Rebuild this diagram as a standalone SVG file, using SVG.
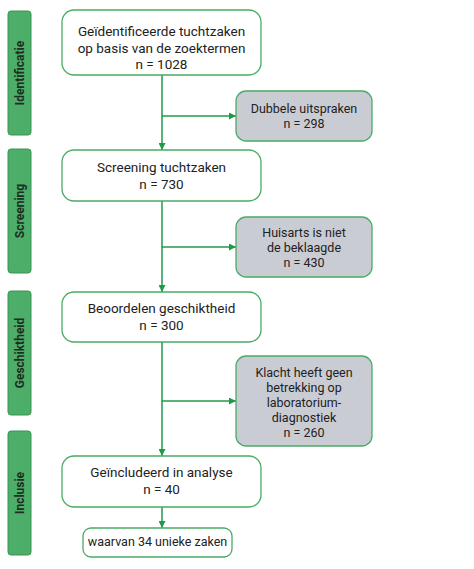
<svg xmlns="http://www.w3.org/2000/svg" width="474" height="569" viewBox="0 0 474 569">
<style>
.bg{fill:#ffffff}
.main{fill:#ffffff;stroke:#4aab66;stroke-width:1.3}
.ex{fill:#caccd4;stroke:#4aab66;stroke-width:1.3}
.bar{fill:#4cae68;stroke:#3b9456;stroke-width:1}
.t{font-family:Roboto,"Liberation Sans",sans-serif;font-size:13.5px;fill:#222;text-anchor:middle}
.ts{font-family:Roboto,"Liberation Sans",sans-serif;font-size:12.5px;fill:#222;text-anchor:middle}
.side{font-family:Roboto,"Liberation Sans",sans-serif;font-size:12px;font-weight:bold;fill:#1d2d22;text-anchor:middle}
.c{stroke:#1f9a4a;stroke-width:1.5;fill:none}
</style>
<defs>
<marker id="ah" viewBox="0 0 10 10" refX="10" refY="5" markerWidth="7" markerHeight="7" markerUnits="userSpaceOnUse" orient="auto">
<path d="M0,0 L10,5 L0,10 z" fill="#1f9a4a"/>
</marker>
</defs>
<rect class="bg" x="0" y="0" width="474" height="569"/>
<g id="phase-identificatie">
<rect class="bar" x="8" y="11" width="23" height="124" rx="3"/>
<text class="side" transform="translate(24,73) rotate(-90)">Identificatie</text>
</g>
<g id="phase-screening">
<rect class="bar" x="8" y="149" width="23" height="124" rx="3"/>
<text class="side" transform="translate(24,211) rotate(-90)">Screening</text>
</g>
<g id="phase-geschiktheid">
<rect class="bar" x="8" y="291" width="23" height="124" rx="3"/>
<text class="side" transform="translate(24,353) rotate(-90)">Geschiktheid</text>
</g>
<g id="phase-inclusie">
<rect class="bar" x="8" y="431" width="23" height="124" rx="3"/>
<text class="side" transform="translate(24,493) rotate(-90)">Inclusie</text>
</g>
<g id="connectors">
<path class="c" d="M162,75 V150" marker-end="url(#ah)"/>
<path class="c" d="M162,116 H236" marker-end="url(#ah)"/>
<path class="c" d="M162,201 V292" marker-end="url(#ah)"/>
<path class="c" d="M162,247 H236" marker-end="url(#ah)"/>
<path class="c" d="M162,342 V456" marker-end="url(#ah)"/>
<path class="c" d="M162,401 H236" marker-end="url(#ah)"/>
<path class="c" d="M162,507 V528" marker-end="url(#ah)"/>
</g>
<g id="n1">
<rect class="main" x="62" y="10" width="199" height="65" rx="12"/>
<text class="t" x="161.5" y="36">Geïdentificeerde tuchtzaken</text>
<text class="t" x="161.5" y="53">op basis van de zoektermen</text>
<text class="t" x="161.5" y="69">n = 1028</text>
</g>
<g id="x1">
<rect class="ex" x="236" y="91" width="136" height="50" rx="10"/>
<text class="ts" x="304" y="113">Dubbele uitspraken</text>
<text class="ts" x="304" y="128">n = 298</text>
</g>
<g id="n2">
<rect class="main" x="62" y="150" width="199" height="51" rx="12"/>
<text class="t" x="161.5" y="172">Screening tuchtzaken</text>
<text class="t" x="161.5" y="189">n = 730</text>
</g>
<g id="x2">
<rect class="ex" x="236" y="217" width="136" height="60" rx="10"/>
<text class="ts" x="304" y="237">Huisarts is niet</text>
<text class="ts" x="304" y="252">de beklaagde</text>
<text class="ts" x="304" y="267">n = 430</text>
</g>
<g id="n3">
<rect class="main" x="62" y="292" width="199" height="50" rx="12"/>
<text class="t" x="161.5" y="313">Beoordelen geschiktheid</text>
<text class="t" x="161.5" y="330">n = 300</text>
</g>
<g id="x3">
<rect class="ex" x="236" y="356" width="136" height="90" rx="10"/>
<text class="ts" x="304" y="377">Klacht heeft geen</text>
<text class="ts" x="304" y="392">betrekking op</text>
<text class="ts" x="304" y="407">laboratorium-</text>
<text class="ts" x="304" y="422">diagnostiek</text>
<text class="ts" x="304" y="437">n = 260</text>
</g>
<g id="n4">
<rect class="main" x="62" y="456" width="199" height="51" rx="12"/>
<text class="t" x="161.5" y="477">Geïncludeerd in analyse</text>
<text class="t" x="161.5" y="494">n = 40</text>
</g>
<g id="n5">
<rect class="main" x="83" y="528" width="149" height="29" rx="8"/>
<text class="ts" x="157.5" y="546">waarvan 34 unieke zaken</text>
</g>
</svg>
